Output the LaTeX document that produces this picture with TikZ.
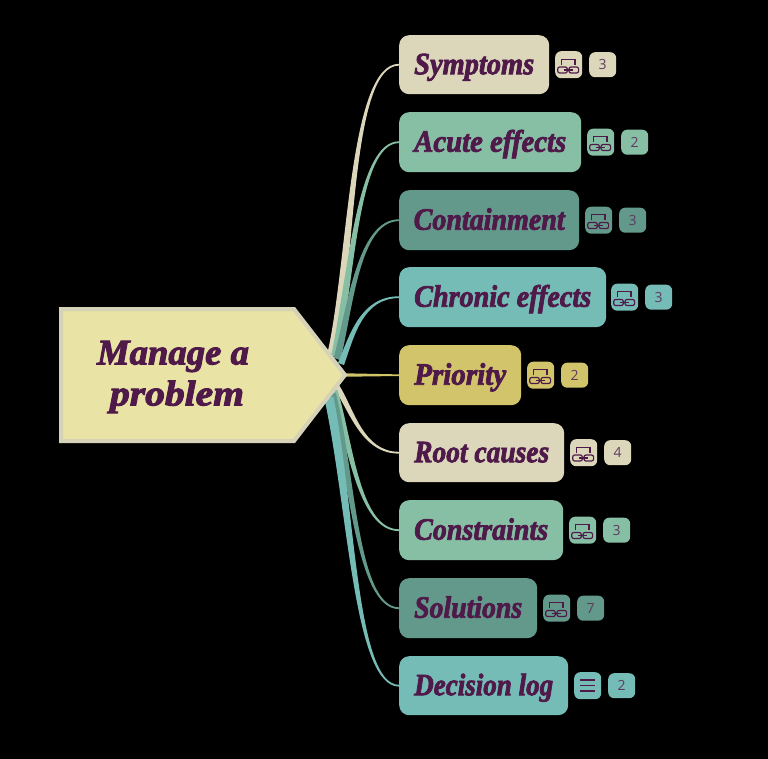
\documentclass[tikz,border=0pt]{standalone}
\usepackage{fontspec}
\usepackage{graphicx}
\setmainfont{Liberation Serif}
\newfontfamily\labelfont{Liberation Serif}[UprightFont=* Bold Italic,BoldFont=* Bold Italic,ItalicFont=* Bold Italic,BoldItalicFont=* Bold Italic,UprightFeatures={FakeBold=2.6}]
\newfontfamily\countfont{Open Sans}
\usetikzlibrary{calc}
\definecolor{cbeige}{HTML}{DCD7BB}
\definecolor{cgreen}{HTML}{87BFA5}
\definecolor{cdark}{HTML}{63998A}
\definecolor{cteal}{HTML}{75BBB6}
\definecolor{cyellow}{HTML}{D2C46A}
\definecolor{cink}{HTML}{4F1A4A}
\definecolor{cnum}{HTML}{5E3A60}
\definecolor{crootfill}{HTML}{E9E3A5}
\definecolor{crootline}{HTML}{D6D2B8}
\newcommand\fitw[2]{\resizebox{#1pt}{\height}{#2}}
\tikzset{
  topicbox/.style={rectangle,rounded corners=10pt,inner sep=0pt,anchor=north west,text=cink,
    font=\labelfont\fontsize{31}{31}\selectfont,text height=19pt,text depth=0pt},
  tagbox/.style={rectangle,rounded corners=6pt,inner sep=0pt,anchor=north west,
    minimum width=27pt,minimum height=27pt},
  countbox/.style={rectangle,rounded corners=6pt,inner sep=0pt,anchor=north west,
    minimum width=27pt,minimum height=25pt,text=cnum,font=\countfont\fontsize{14}{14}\selectfont},
  glyph/.style={draw=cink,line width=1.2pt,fill=none},
  glyphbar/.style={draw=cink,line width=1.8pt},
  rootshape/.style={draw=crootline,fill=crootfill,line width=4pt,miter limit=10},
  roottext/.style={inner sep=0pt,text=cink,align=center,
    font=\labelfont\fontsize{36}{41}\selectfont},
}
% node name, box right, box top, box bottom, colour, text width, text
\newcommand\topic[7]{%
  \node[topicbox,fill=#5,minimum width=#2pt-399pt,minimum height=#4pt-#3pt] (#1) at (399,#3) {\fitw{#6}{#7}};
}
% name, left, centre y, colour, count
\newcommand\linktag[5]{%
  \node[tagbox,fill=#4] (#1i) at (#2,#3-13.5) {};
  \draw[glyph] ($(#1i.north west)+(6.5,13.8)$) -- ++(0,-5.6) -- ++(13.4,0) -- ++(0,5.6);
  \draw[glyph,rounded corners=2pt] ($(#1i.north west)+(2.7,16)$) rectangle ++(9.6,6);
  \draw[glyph,rounded corners=2pt] ($(#1i.north west)+(14,16)$) rectangle ++(9.6,6);
  \draw[glyph] ($(#1i.north west)+(8.7,19)$) -- ++(8.8,0);
  \node[countbox,fill=#4] (#1c) at (#2+34,#3-12.5) {#5};
}
\newcommand\listtag[5]{%
  \node[tagbox,fill=#4] (#1i) at (#2,#3-13.5) {};
  \draw[glyphbar] ($(#1i.north west)+(6,7.7)$) -- ++(14.5,0);
  \draw[glyphbar] ($(#1i.north west)+(6,13.5)$) -- ++(14.5,0);
  \draw[glyphbar] ($(#1i.north west)+(6,19.3)$) -- ++(14.5,0);
  \node[countbox,fill=#4] (#1c) at (#2+34,#3-12.5) {#5};
}
% start coordinate, node, c1 x, c1 y, c2 x, colour, half width, normal sign
\newcommand\taper[8]{%
  \coordinate (cone) at (#3,#4);
  \coordinate (ctwo) at (#5,0 |- #2.west);
  \fill[#6] ($(#1)+(-#7,-#8*0.35*#7)$)
    .. controls ($(cone)+(-#7*0.85,0)$) and ($(ctwo)+(-1.2,-#8*0.9)$) .. ($(#2.west)+(0,-#8*0.9)$)
    -- ($(#2.west)+(0,#8*0.9)$)
    .. controls ($(ctwo)+(1.2,#8*0.9)$) and ($(cone)+(#7*0.85,0)$) .. ($(#1)+(#7,#8*0.35*#7)$) -- cycle;
}
\begin{document}
\begin{tikzpicture}[x=1pt,y=-1pt]
\path[use as bounding box,fill=black] (0,0) rectangle (768,759);
\topic{n1}{549}{35}{94}{cbeige}{120}{Symptoms}
\topic{n2}{581}{112}{172}{cgreen}{152}{Acute effects}
\topic{n3}{579}{190}{250}{cdark}{151}{Containment}
\topic{n4}{606}{267}{327}{cteal}{177}{Chronic effects}
\topic{n5}{521}{345}{405}{cyellow}{92}{Priority}
\topic{n6}{564}{423}{482}{cbeige}{135}{Root causes}
\topic{n7}{563}{500}{560}{cgreen}{134}{Constraints}
\topic{n8}{537}{578}{638}{cdark}{108}{Solutions}
\topic{n9}{568}{656}{715}{cteal}{139}{Decision log}
\linktag{n1}{555}{64.5}{cbeige}{3}
\linktag{n2}{587}{142}{cgreen}{2}
\linktag{n3}{585}{220}{cdark}{3}
\linktag{n4}{611}{297}{cteal}{3}
\linktag{n5}{527}{375}{cyellow}{2}
\linktag{n6}{570}{452.5}{cbeige}{4}
\linktag{n7}{569}{530}{cgreen}{3}
\linktag{n8}{543}{608}{cdark}{7}
\listtag{n9}{574}{685.5}{cteal}{2}
\coordinate (s1) at (332,354);
\coordinate (s2) at (335,357);
\coordinate (s3) at (337,359);
\coordinate (s4) at (341,364);
\coordinate (s5) at (340,375);
\coordinate (s6) at (336,386);
\coordinate (s7) at (334,391);
\coordinate (s8) at (332,394);
\coordinate (s9) at (329,398);
\taper{s1}{n1}{352}{260}{350}{cbeige}{4.4}{1}
\taper{s2}{n2}{352}{270}{358}{cgreen}{3.8}{1}
\taper{s3}{n3}{350}{310}{358}{cdark}{3.4}{1}
\taper{s4}{n4}{352}{335}{362}{cteal}{3}{1}
\fill[cyellow] ($(s5)+(0,-1.8)$) -- ($(n5.west)+(0,-0.8)$) -- ($(n5.west)+(0,0.8)$) -- ($(s5)+(0,1.8)$) -- cycle;
\taper{s6}{n6}{352}{410}{362}{cbeige}{3}{-1}
\taper{s7}{n7}{350}{440}{358}{cgreen}{3.4}{-1}
\taper{s8}{n8}{352}{470}{356}{cdark}{3.8}{-1}
\taper{s9}{n9}{352}{510}{355}{cteal}{4.4}{-1}
\draw[rootshape] (61,309) -- (294,309) -- (345,375) -- (294,441) -- (61,441) -- cycle;
\node[roottext] (root) at (173,377) {\fitw{152}{Manage a}\\\hspace*{8pt}\fitw{134}{problem}};
\end{tikzpicture}
\end{document}
